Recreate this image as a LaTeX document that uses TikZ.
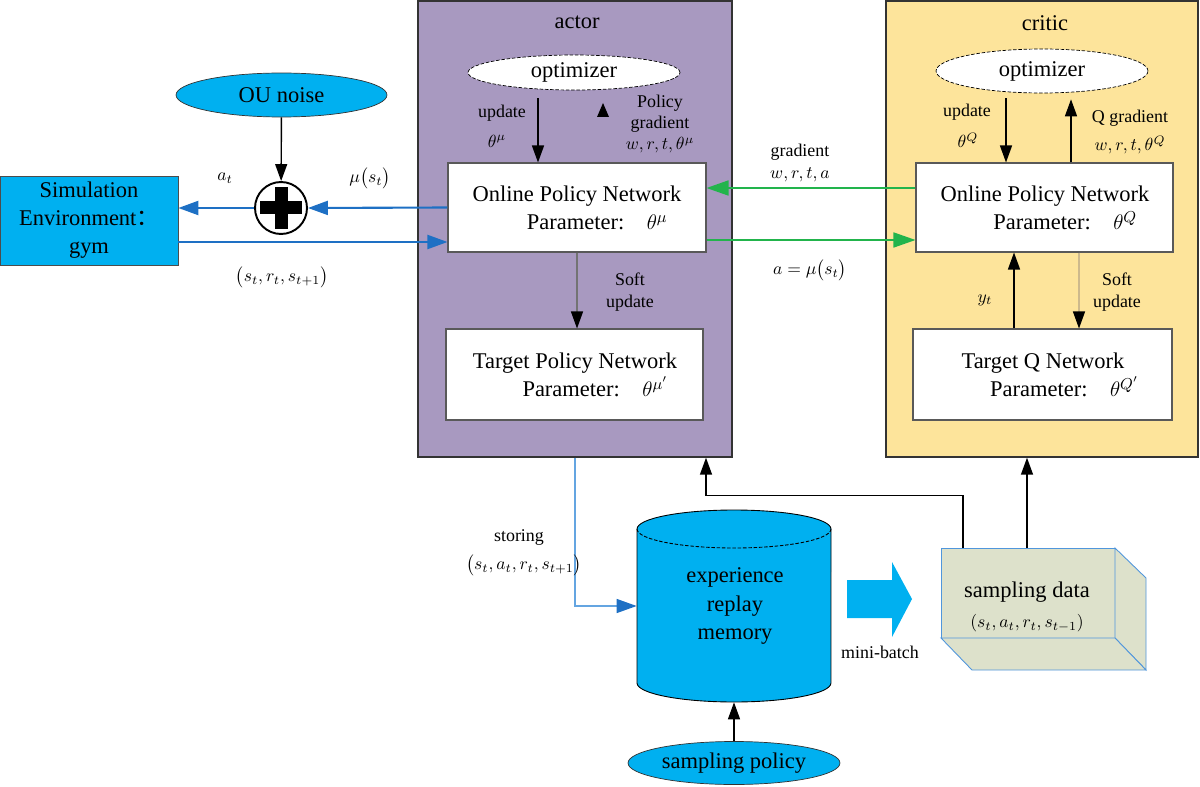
\documentclass[tikz,border=0pt]{standalone}
\usepackage{amsmath}
\usepackage{fontspec}
\setmainfont{Liberation Serif}
\newfontfamily\cjk{Noto Sans CJK SC}
\usepackage{tikz}
\usetikzlibrary{shapes.geometric, arrows.meta, fit}
\usepackage{xcolor}
\definecolor{actorbg}{RGB}{168,153,192}
\definecolor{criticbg}{RGB}{253,228,155}
\definecolor{cyanfill}{RGB}{0,176,240}
\definecolor{bluearrow}{RGB}{30,112,196}
\definecolor{lightline}{RGB}{100,165,225}
\definecolor{greenarrow}{RGB}{34,180,76}
\definecolor{datafill}{RGB}{221,225,203}
\definecolor{dataedge}{RGB}{80,150,220}
\definecolor{criticline}{RGB}{205,185,140}

\begin{document}
\begin{tikzpicture}[x=0.02cm, y=-0.02cm,
    big/.style={font=\fontsize{12.8}{16}\selectfont, inner sep=1pt},
    small/.style={font=\fontsize{10.2}{12.2}\selectfont, align=center, inner sep=1pt},
    panel/.style={draw=black!80, line width=0.8pt, inner sep=0pt},
    netbox/.style={draw=black!65, fill=white, line width=0.6pt, inner sep=0pt},
    opt/.style={big, ellipse, draw, dash pattern=on 2pt off 1pt, fill=white, minimum width=4.24cm, inner sep=0pt},
    cyanell/.style={big, ellipse, draw=black!80, fill=cyanfill, minimum width=4.22cm, minimum height=0.88cm, inner sep=0pt},
    blk/.style={-{Triangle[length=0.34cm, width=0.24cm]}, line width=0.8pt},
    soft/.style={-{Triangle[length=0.34cm, width=0.24cm, color=black]}, line width=0.7pt, draw=#1},
    bluearr/.style={-{Triangle[length=0.4cm, width=0.28cm]}, draw=bluearrow, line width=1.2pt},
    greenarr/.style={-{Triangle[length=0.44cm, width=0.3cm]}, draw=greenarrow, line width=1pt},
    cube/.style={fill=datafill, draw=dataedge, line width=0.5pt}]
    \useasboundingbox (0,0) rectangle (1200,787);
    % Actor
    \node[panel, fill=actorbg, fit={(418,1) (732,457)}] (actor) {};
    \node[big] (actorlbl) at (577,22) {actor};
    \node[opt, minimum height=0.7cm] (aopt) at (574,72.5) {optimizer};
    \node[netbox, fit={(448,163) (706,252)}] (aon) {};
    \node[big, align=center] (aontxt) at (577,208) {Online Policy Network\\\hspace*{1.8em}Parameter:\quad$\theta^{\mu}$};
    \node[netbox, fit={(446,329) (703,420)}] (atgt) {};
    \node[big, align=center] (atgttxt) at (575,375) {Target Policy Network\\\hspace*{1.8em}Parameter:\quad$\theta^{\mu'}$};
    \draw[blk, shorten <=0.16cm] (aopt.south -| 538,0) -- (aon.north -| 538,0);
    \fill (597,117) -- (609,117) -- (603,103) -- cycle;
    \node[small] (aupd) at (502,113) {update};
    \node[small] (aupdth) at (497,141) {$\theta^{\mu}$};
    \node[small] (apg) at (660,124) {Policy\\gradient\\$w,r,t,\theta^{\mu}$};
    \draw[soft=black!55] (aon.south) -- (atgt.north -| aon.south);
    \node[small] (asoft) at (630,292) {Soft\\update};
    % Critic
    \node[panel, fill=criticbg, fit={(886,1) (1198,457)}] (critic) {};
    \node[big] (criticlbl) at (1045,23) {critic};
    \node[opt, minimum height=0.88cm] (copt) at (1042,71) {optimizer};
    \node[netbox, fit={(916,163) (1173,252)}] (con) {};
    \node[big, align=center] (contxt) at (1045,208) {Online Policy Network\\\hspace*{1.8em}Parameter:\quad$\theta^{Q}$};
    \node[netbox, fit={(913,329) (1172,420)}] (ctgt) {};
    \node[big, align=center] (ctgttxt) at (1043,375) {Target Q Network\\\hspace*{1.9em}Parameter:\quad$\theta^{Q'}$};
    \draw[blk, shorten <=0.1cm] (copt.south -| 1006,0) -- (con.north -| 1006,0);
    \draw[blk, shorten >=0.12cm] (con.north -| 1071,0) -- (copt.south -| 1071,0);
    \node[small] (cupd) at (967,112) {update};
    \node[small] (cupdth) at (968,140) {$\theta^{Q}$};
    \node[small] (cqg) at (1130,118) {Q gradient};
    \node[small] (cqgw) at (1130,145) {$w,r,t,\theta^{Q}$};
    \draw[blk] (ctgt.north -| 1014,0) -- (con.south -| 1014,0);
    \node[small] (cyt) at (985,300) {$y_t$};
    \draw[soft=criticline] (con.south -| 1079,0) -- (ctgt.north -| 1079,0);
    \node[small] (csoft) at (1117,292) {Soft\\update};
    % Environment and noise
    \node[cyanell] (ou) at (281.5,95) {OU noise};
    \node[draw=black!70, fill=cyanfill, fit={(0,176) (178,265)}, inner sep=0pt] (env) {};
    \node[big, align=center] (envtxt) at (89,220) {Simulation\\Environment{\cjk ：}\\gym};
    \node[circle, draw, line width=1.1pt, fill=white, minimum size=1.04cm, inner sep=0pt] (plus) at (281,208) {};
    \fill (plus.center) +(-21,-6.5) rectangle +(21,6.5);
    \fill (plus.center) +(-6.5,-21) rectangle +(6.5,21);
    \draw[blk] (ou) -- (plus);
    \draw[bluearr] (aon.west) -- (plus.east);
    \draw[bluearr] (plus.west) -- (plus.west -| env.east);
    \coordinate (envout) at (178,242);
    \draw[bluearr] (envout) -- (envout -| aon.west);
    \node[small] (at) at (225,178) {$a_t$};
    \node[small] (mus) at (370,178) {$\mu\bigl(s_t\bigr)$};
    \node[small] (srs) at (282,277) {$\bigl(s_t,r_t,s_{t+1}\bigr)$};
    % Actor <-> critic
    \draw[greenarr] ([yshift=0.39cm]con.west) -- ([yshift=0.39cm]aon.east);
    \draw[greenarr] ([yshift=-0.65cm]aon.east) -- ([yshift=-0.65cm]con.west);
    \node[small] (grad) at (800,163) {gradient\\$w,r,t,a$};
    \node[small] (amu) at (810,270) {$a=\mu\bigl(s_t\bigr)$};
    % Replay memory
    \node[fit={(637,510) (831,702)}, inner sep=0pt] (mem) {};
    \fill[cyanfill] (637,529) -- (637,683) arc[start angle=180, end angle=360, x radius=1.94cm, y radius=0.38cm] -- (831,529) arc[start angle=0, end angle=180, x radius=1.94cm, y radius=0.38cm] -- cycle;
    \draw[line width=0.5pt] (637,529) -- (637,683) arc[start angle=180, end angle=360, x radius=1.94cm, y radius=0.38cm] -- (831,529) arc[start angle=0, end angle=180, x radius=1.94cm, y radius=0.38cm];
    \draw[line width=0.5pt, dash pattern=on 2pt off 1pt] (637,529) arc[start angle=180, end angle=360, x radius=1.94cm, y radius=0.38cm];
    \node[big, align=center] (memtxt) at (735,606) {experience\\replay\\memory};
    \node[cyanell, minimum width=4.24cm, minimum height=0.86cm] (spol) at (734,763) {sampling policy};
    \draw[blk] (spol) -- (mem.south);
    \draw[-{Triangle[length=0.4cm, width=0.28cm, color=bluearrow]}, draw=lightline, line width=0.7pt] (actor.south -| 575,0) |- (mem.west);
    \node[small] (stor) at (519,537) {storing};
    \node[small] (storw) at (524,565) {$\bigl(s_t,a_t,r_t,s_{t+1}\bigr)$};
    % Mini-batch
    \fill[cyanfill] (847,580) -- (892,580) -- (892,562) -- (912,599) -- (892,637) -- (892,618) -- (847,618) -- cycle;
    \node[small] (mb) at (880,652) {mini-batch};
    % Sampling data
    \filldraw[cube] (941,548) rectangle (1115,638);
    \filldraw[cube] (1115,548) -- (1146,578) -- (1146,670) -- (1115,638) -- cycle;
    \filldraw[cube] (941,638) -- (1115,638) -- (1146,670) -- (972,670) -- cycle;
    \node[fit={(941,548) (1115,638)}, inner sep=0pt] (sdata) {};
    \node[big] (sdtxt) at (1027,592) {sampling data};
    \node[small] (sdw) at (1027,623) {$(s_t,a_t,r_t,s_{t-1})$};
    \draw[blk] (sdata.north -| 963,0) -- ++(0,-52) -| (actor.south -| 706,0);
    \draw[blk] (sdata.north -| 1027,0) -- (critic.south -| 1027,0);
\end{tikzpicture}
\end{document}
